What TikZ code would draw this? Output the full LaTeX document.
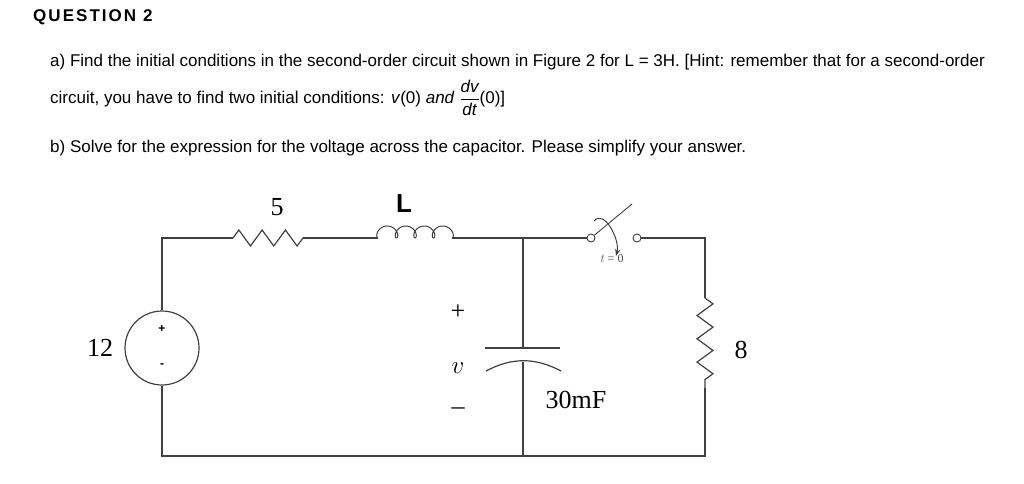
\documentclass[tikz,border=0pt]{standalone}
\usepackage{fontspec}
\setmainfont{Liberation Sans}
\newfontfamily\circfont{Liberation Serif}
\usetikzlibrary{decorations.pathmorphing,arrows.meta}
\tikzset{
  wire/.style={draw=black!75,line width=1.2pt},
  txt/.style={anchor=west,inner sep=0pt,font=\fontsize{17}{19}\selectfont},
  lbl/.style={inner sep=0pt,font=\circfont\fontsize{26}{28}\selectfont},
  contact/.style={circle,draw=black!75,line width=0.9pt,fill=white,inner sep=0pt,minimum size=8pt}
}
\begin{document}
\begin{tikzpicture}[x=1pt,y=-1pt]
\useasboundingbox (0,0) rectangle (1024,483);
% texts
\node[txt,font=\bfseries\fontsize{17}{19}\selectfont] (title) at (33,17) {\addfontfeature{LetterSpace=12}QUESTION 2};
\node[txt] (qa) at (50,62) {a) Find the initial conditions in the second-order circuit shown in Figure 2 for L = 3H. [Hint: remember that for a second-order};
\node[txt] (qa2) at (50,98) {circuit, you have to find two initial conditions: \textit{v}(0) \textit{and} $\displaystyle\frac{\textit{dv}}{\textit{dt}}$(0)]};
\node[txt] (qb) at (50,148) {b) Solve for the expression for the voltage across the capacitor. Please simplify your answer.};
% circuit corners
\coordinate (tl) at (162,238);
\coordinate (bl) at (162,456);
\coordinate (tr) at (705,238);
\coordinate (br) at (705,456);
\coordinate (j) at (523,238);
\coordinate (jb) at (523,456);
\node[circle,draw=black!75,line width=1.2pt,minimum size=74pt,inner sep=0pt] (src) at (162,348) {};
\coordinate (r1a) at (233,238);
\coordinate (r1b) at (303,238);
\coordinate (la) at (378,238);
\coordinate (lb) at (452,238);
\node[contact] (s1) at (591,238) {};
\node[contact] (s2) at (637,238) {};
\coordinate (r2a) at (705,298);
\coordinate (r2b) at (705,388);
\coordinate (cp1) at (523,348);
\coordinate (cp2) at (523,362);
% wires
\draw[wire] (src.north) -- (tl) -- (r1a);
\draw[wire,decorate,decoration={zigzag,segment length=23.3pt,amplitude=8pt}] (r1a) -- (r1b);
\draw[wire] (r1b) -- (la);
\draw[wire,line width=1pt] plot[domain=0:25.13,samples=160,smooth] ({378+2.945*\x-5*sin(\x r)},{238-6*(1-cos(\x r))});
\draw[wire] (lb) -- (j) -- (s1);
\draw[wire] (s2) -- (tr) -- (r2a);
\draw[wire,decorate,decoration={zigzag,segment length=23.3pt,amplitude=8pt}] (r2a) -- (r2b);
\draw[wire] (r2b) -- (br) -- (bl) -- (src.south);
\draw[wire] (j) -- (cp1);
\draw[wire] (485,348) -- (560,348);
\draw[wire] (486,371) to[bend left=28] (561,371);
\draw[wire] (cp2) -- (jb);
% switch
\draw[wire,line width=0.9pt] (s1) -- (632,204);
\draw[line width=1pt,black!75,-{Stealth[length=7pt]}] (594,221) to[out=50,in=75] (616,256);
% labels
\node[font=\bfseries\fontsize{12}{12}\selectfont] (sp) at (162,329) {+};
\node[font=\bfseries\fontsize{12}{12}\selectfont] (sm) at (162,366) {-};
\node[lbl] (l12) at (100,348) {12};
\node[lbl] (l8) at (741,350) {8};
\node[lbl] (l5) at (277,207) {5};
\node[inner sep=0pt,font=\bfseries\fontsize{26}{28}\selectfont] (lL) at (404,204) {L};
\node[lbl] (vp) at (458,312) {+};
\node[lbl] (vv) at (458,368) {$v$};
\node[lbl] (vm) at (458,411) {\textendash};
\node[lbl] (cap) at (576,400) {30mF};
\node[inner sep=0pt,font=\circfont\fontsize{12}{12}\selectfont,black!70] (t0) at (612,259) {$t$ = 0};
\end{tikzpicture}
\end{document}
